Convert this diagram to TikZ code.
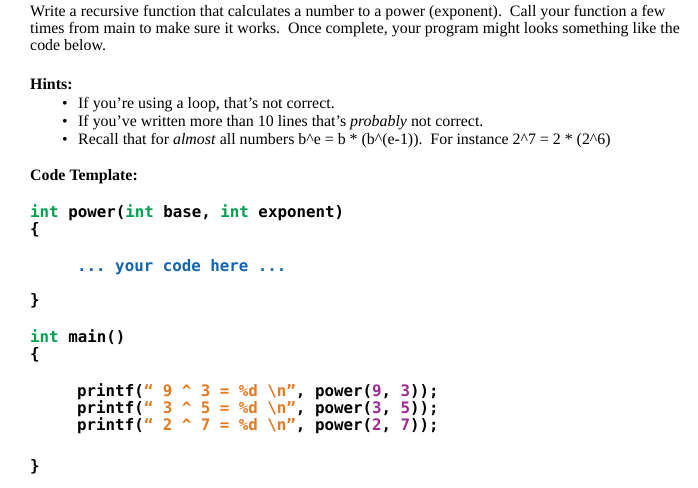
\documentclass[tikz,border=0pt]{standalone}
\usepackage{fontspec}
\setmainfont{Liberation Serif}
\setmonofont{DejaVu Sans Mono}
\definecolor{kw}{RGB}{0,160,80}
\definecolor{cm}{RGB}{20,100,175}
\definecolor{st}{RGB}{230,120,30}
\definecolor{nm}{RGB}{160,40,150}
\tikzset{txt/.style={anchor=base west,inner sep=0pt,font=\fontsize{15.9}{18}\selectfont},
code/.style={anchor=base west,inner sep=0pt,font=\fontsize{15.8}{16}\ttfamily\bfseries},
bul/.style={anchor=base,inner sep=0pt,font=\fontsize{15.9}{18}\selectfont}}
\begin{document}
\begin{tikzpicture}[x=1pt,y=-1pt]
\useasboundingbox (0,0) rectangle (698,487);
\node[txt] (l1) at (30,17) {Write a recursive function that calculates a number to a power (exponent).\ \ Call your function a few};
\node[txt] (l2) at (30,34) {times from main to make sure it works.\ \ Once complete, your program might looks something like the};
\node[txt] (l3) at (30,51) {code below.};
\node[txt,font=\fontsize{15.9}{18}\selectfont\bfseries] (h) at (30,89) {Hints:};
\node[bul] (b1) at (65,108) {•};
\node[bul] (b2) at (65,126) {•};
\node[bul] (b3) at (65,144) {•};
\node[txt] (h1) at (78,108) {If you’re using a loop, that’s not correct.};
\node[txt] (h2) at (78,126) {If you’ve written more than 10 lines that’s \textit{probably} not correct.};
\node[txt] (h3) at (78,144) {Recall that for \textit{almost} all numbers b\^{}e = b * (b\^{}(e-1)).\ \ For instance 2\^{}7 = 2 * (2\^{}6)};
\node[txt,font=\fontsize{15.9}{18}\selectfont\bfseries] (ct) at (30,180) {Code Template:};
\node[code] (c1) at (30,217) {\textcolor{kw}{int} power(\textcolor{kw}{int} base, \textcolor{kw}{int} exponent)};
\node[code] (c2) at (30,234) {\{};
\node[code] (c3) at (77,271) {\textcolor{cm}{... your code here ...}};
\node[code] (c4) at (30,305) {\}};
\node[code] (c5) at (30,342) {\textcolor{kw}{int} main()};
\node[code] (c6) at (30,359) {\{};
\node[code] (p1) at (77,396) {printf(\textcolor{st}{“ 9 \^{} 3 = \%d \textbackslash n”}, power(\textcolor{nm}{9}, \textcolor{nm}{3}));};
\node[code] (p2) at (77,413) {printf(\textcolor{st}{“ 3 \^{} 5 = \%d \textbackslash n”}, power(\textcolor{nm}{3}, \textcolor{nm}{5}));};
\node[code] (p3) at (77,430) {printf(\textcolor{st}{“ 2 \^{} 7 = \%d \textbackslash n”}, power(\textcolor{nm}{2}, \textcolor{nm}{7}));};
\node[code] (c7) at (30,471) {\}};
\end{tikzpicture}
\end{document}
